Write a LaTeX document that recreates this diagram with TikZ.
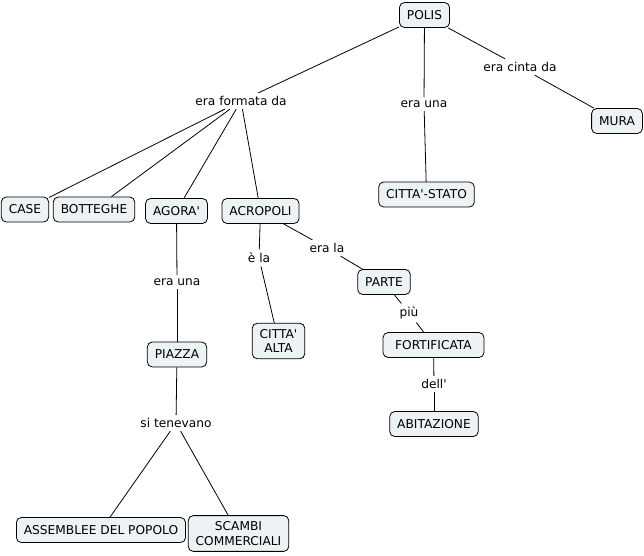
\documentclass[tikz,border=0pt]{standalone}
\usepackage{fontspec}
\setmainfont{DejaVu Sans}
\usepackage{xcolor}
\definecolor{cmapFill}{RGB}{237,242,245}
\usepackage{tikz}
\usetikzlibrary{positioning}
\newcommand{\apo}{\textquotesingle}

\begin{document}
\begin{tikzpicture}[x=1pt, y=-1pt,
  concept/.style={draw, rectangle, rounded corners=5pt, fill=cmapFill,
                  font=\fontsize{12.2}{14.5}\selectfont, inner xsep=7.5pt,
                  inner ysep=6pt, minimum height=25pt, align=center},
  link/.style={font=\fontsize{12.2}{14.5}\selectfont, inner sep=3pt},
  line width=0.8pt
]
\useasboundingbox (0,0) rectangle (644,555);

%% ── top ─────────────────────────────────────────────────────
\node[concept] (polis)   at (424.5,15)  {POLIS};
\node[link]    (formata) at (241,101)   {era formata da};
\node[link]    (unaP)    at (424,104)   {era una};
\node[link]    (cinta)   at (520,67)    {era cinta da};
\node[concept] (mura)    at (617,121)   {MURA};
\node[concept] (stato)   at (426.5,194.5) {CITTA\apo-STATO};
\draw (polis) -- (formata);
\draw (polis) -- (unaP); \draw (unaP) -- (stato);
\draw (polis) -- (cinta); \draw (cinta) -- (mura);

%% ── parti della polis ──────────────────────────────────────
\node[concept] (case)     at (25,209.5)  {CASE};
\node[concept] (botteghe) at (94,209.5)  {BOTTEGHE};
\node[concept] (agora)    at (176.5,211) {AGORA\apo};
\node[concept] (acropoli) at (260.5,211) {ACROPOLI};
\draw (formata) -- (case); \draw (formata) -- (botteghe);
\draw (formata) -- (agora); \draw (formata) -- (acropoli);

%% ── agora ───────────────────────────────────────────────────
\node[link]    (unaA)   at (177,282)   {era una};
\node[concept] (piazza) at (177,354.5) {PIAZZA};
\node[link]    (tenev)  at (176,423)   {si tenevano};
\node[concept] (assemb) at (101,530)   {ASSEMBLEE DEL POPOLO};
\node[concept] (scambi) at (238.5,533.5) {SCAMBI\\COMMERCIALI};
\draw (agora) -- (unaA); \draw (unaA) -- (piazza);
\draw (piazza) -- (tenev);
\draw (tenev) -- (assemb); \draw (tenev) -- (scambi);

%% ── acropoli ────────────────────────────────────────────────
\node[link]    (ela)   at (259,258)   {è la};
\node[concept] (alta)  at (278.5,341) {CITTA\apo\\ALTA};
\node[link]    (erala) at (327,248)   {era la};
\node[concept] (parte) at (384,282)   {PARTE};
\node[link]    (piu)   at (409,313)   {più};
\node[concept, minimum width=101pt] (fort) at (433.5,345) {FORTIFICATA};
\node[link]    (dell)  at (434,384)   {dell\apo};
\node[concept] (abit)  at (434,424)   {ABITAZIONE};
\draw (acropoli) -- (ela); \draw (ela) -- (alta);
\draw (acropoli) -- (erala); \draw (erala) -- (parte);
\draw (parte) -- (piu); \draw (piu) -- (fort);
\draw (fort) -- (dell); \draw (dell) -- (abit);
\end{tikzpicture}
\end{document}
